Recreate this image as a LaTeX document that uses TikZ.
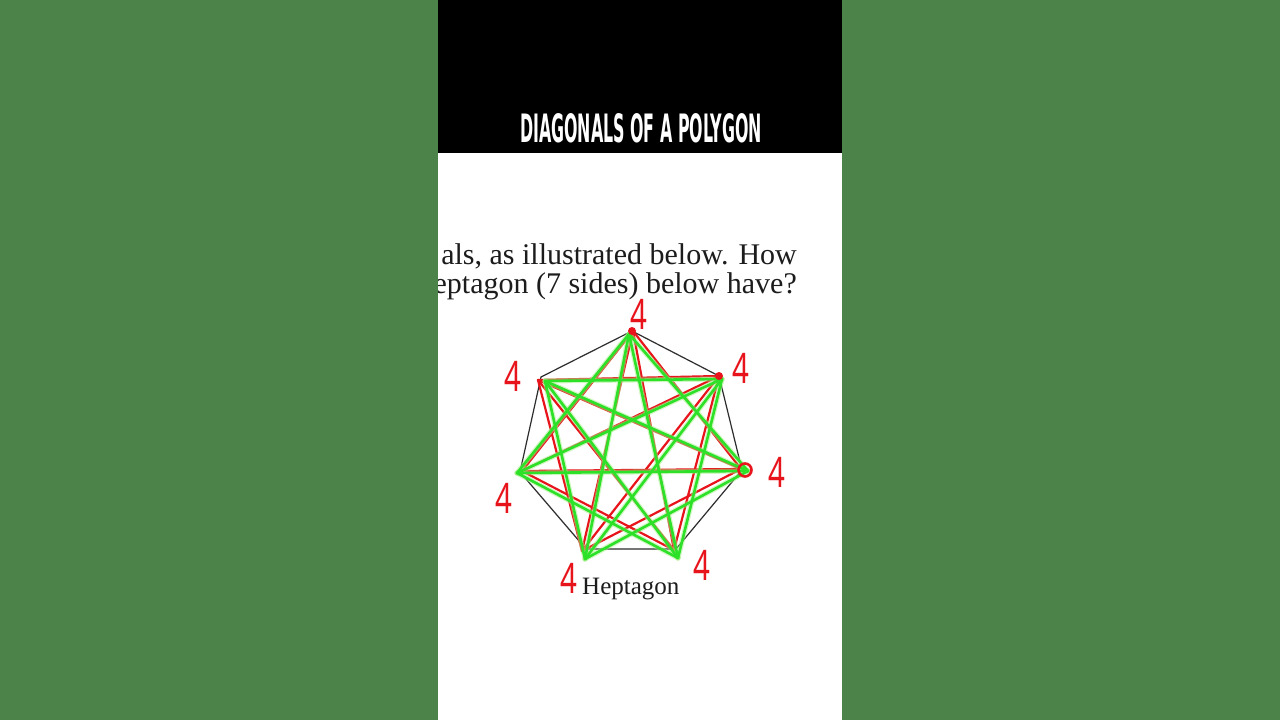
\documentclass[tikz,border=0pt]{standalone}
\usepackage{fontspec}
\setmainfont{Liberation Serif}
\newfontfamily\titlefont{DejaVu Sans}
\newfontfamily\handfont{Noto Sans}
\definecolor{bggreen}{RGB}{76,131,72}
\definecolor{penred}{RGB}{232,20,28}
\definecolor{pengreen}{RGB}{45,225,40}
\definecolor{glowgreen}{RGB}{160,240,130}
\definecolor{edgegray}{RGB}{45,45,45}
\definecolor{textblack}{RGB}{28,28,28}
\begin{document}
\begin{tikzpicture}[x=1pt,y=-1pt,
  redline/.style={penred, line width=2.2pt, line cap=round},
  greenglow/.style={glowgreen, line width=5pt, line cap=round, opacity=0.5},
  greenline/.style={pengreen, line width=2.6pt, line cap=round},
  edgeline/.style={edgegray, line width=1.2pt, line join=miter},
  four/.style={text=penred, font=\handfont\fontsize{42}{42}\selectfont, inner sep=0pt},
  bodytext/.style={text=textblack, inner sep=0pt, font=\fontsize{30}{30}\selectfont}]
\useasboundingbox (0,0) rectangle (1280,720);
% background panels
\fill[bggreen] (0,0) rectangle (1280,720);
\fill[white] (438,0) rectangle (842,720);
\fill[black] (438,0) rectangle (842,153);
% title
\node[anchor=base, text=white, inner sep=0pt] (title) at (641,142)
  {\resizebox{242pt}{29pt}{\titlefont\bfseries DIAGONALS OF A POLYGON}};
% cropped question text
\begin{scope}
  \clip (438,153) rectangle (842,720);
  \node[bodytext, anchor=base east] (line1) at (797,264) {als, as illustrated below. How};
  \node[bodytext, anchor=base east] (line2) at (797,293) {heptagon (7 sides) below have?};
\end{scope}
% heptagon vertices
\coordinate (A) at (632,331);
\coordinate (B) at (719,376);
\coordinate (C) at (742,470);
\coordinate (D) at (676,549);
\coordinate (E) at (586,549);
\coordinate (F) at (520,472);
\coordinate (G) at (541,377);
% red pen end points
\coordinate (A1) at (633,331);
\coordinate (B1) at (719,376);
\coordinate (C1) at (741,469);
\coordinate (D1) at (674,550);
\coordinate (E1) at (582,551);
\coordinate (F1) at (522,471);
\coordinate (G1) at (538,380);
% green pen end points
\coordinate (A2) at (629,334);
\coordinate (B2) at (722,379);
\coordinate (C2) at (748,471);
\coordinate (D2) at (678,558);
\coordinate (E2) at (585,559);
\coordinate (F2) at (517,473);
\coordinate (G2) at (545,381);
% polygon sides
\draw[edgeline] (A) -- (B) -- (C) -- (D) -- (E) -- (F) -- (G) -- cycle;
% red diagonals
\foreach \p/\q in {A/C,A/D,A/E,A/F,B/D,B/E,B/F,B/G,C/E,C/F,C/G,D/F,D/G,E/G}
  \draw[redline] (\p1) -- (\q1);
% green diagonals
\foreach \p/\q in {A/C,A/D,A/E,A/F,B/D,B/E,B/F,B/G,C/E,C/F,C/G,D/F,D/G,E/G}
  \draw[greenglow] (\p2) -- (\q2);
\foreach \p/\q in {A/C,A/D,A/E,A/F,B/D,B/E,B/F,B/G,C/E,C/F,C/G,D/F,D/G,E/G}
  \draw[greenline] (\p2) -- (\q2);
% red vertex marks
\fill[penred] (A) circle (4);
\fill[penred] (B) circle (4);
\draw[penred, line width=2.6pt] (745,470) circle (6.5);
% labels
\node[four] (lA) at (639,314) {\scalebox{0.7}[1]{4}};
\node[four] (lB) at (741,368) {\scalebox{0.7}[1]{4}};
\node[four] (lC) at (777,472) {\scalebox{0.7}[1]{4}};
\node[four] (lD) at (702,565) {\scalebox{0.7}[1]{4}};
\node[four] (lE) at (569,578) {\scalebox{0.7}[1]{4}};
\node[four] (lF) at (504,498) {\scalebox{0.7}[1]{4}};
\node[four] (lG) at (513,376) {\scalebox{0.7}[1]{4}};
\node[anchor=base west, inner sep=0pt, text=textblack, font=\fontsize{25}{25}\selectfont] (hlabel) at (582,594) {Heptagon};
\end{tikzpicture}
\end{document}
